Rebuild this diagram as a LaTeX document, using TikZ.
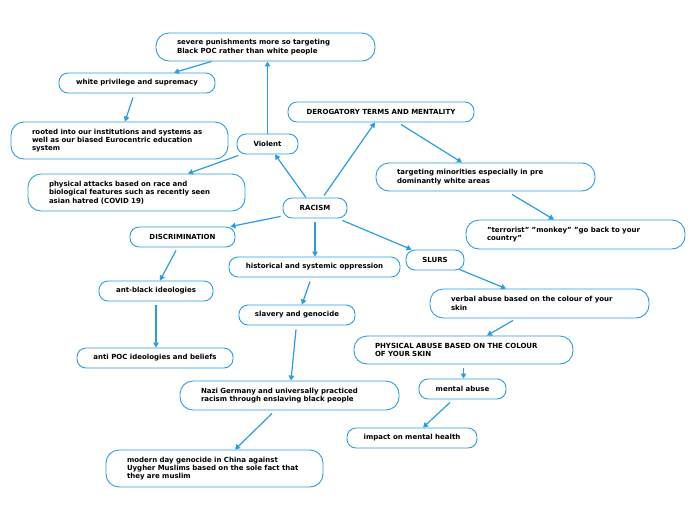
\documentclass[tikz,border=0pt]{standalone}
\usepackage{fontspec}
\setmainfont{DejaVu Sans}
\usetikzlibrary{arrows.meta}
\definecolor{mapblue}{RGB}{42,157,224}
\tikzset{
  bubble/.style={draw=mapblue, line width=0.9pt, rounded corners=9pt,
    inner xsep=4pt, minimum height=20pt, align=center,
    font=\fontsize{7}{8.4}\selectfont\bfseries},
  note/.style={bubble, rounded corners=13pt, align=left,
    inner xsep=21pt, text width=#1},
  link/.style={draw=mapblue, line width=1.2pt,
    -{Triangle[length=5pt,width=5.5pt]}}
}

\begin{document}
\begin{tikzpicture}[x=1pt, y=-1pt]
  \useasboundingbox (0,0) rectangle (696,520);

  \node [bubble, minimum width=64pt] (racism) at (315,208) {RACISM};
  \node [bubble, minimum width=61pt] (violent) at (267.5,144) {Violent};
  \node [note=177pt, minimum height=28pt] (severe) at (265.5,47)
    {severe punishments more so targeting\\Black POC rather than white people};
  \node [bubble, minimum width=156pt] (privilege) at (137,83) {white privilege and supremacy};
  \node [note=175pt, minimum height=37pt] (rooted) at (119.5,140.5)
    {rooted into our institutions and systems as\\well as our biased Eurocentric education\\system};
  \node [note=175pt, minimum height=37pt] (attacks) at (136.5,192.5)
    {physical attacks based on race and\\biological features such as recently seen\\asian hatred (COVID 19)};
  \node [bubble, minimum width=186pt] (derog) at (381,112) {DEROGATORY TERMS AND MENTALITY};
  \node [note=177pt, minimum height=28pt] (targeting) at (485.5,177)
    {targeting minorities especially in pre\\dominantly white areas};
  \node [note=177pt, minimum height=29pt] (terrorist) at (575.5,234.5)
    {"terrorist" "monkey" "go back to your\\country"};
  \node [bubble, minimum width=105pt] (discrim) at (182.5,237) {DISCRIMINATION};
  \node [bubble, minimum width=171pt] (historical) at (314.5,267) {historical and systemic oppression};
  \node [bubble, minimum width=58pt] (slurs) at (435,260) {SLURS};
  \node [note=177pt, minimum height=29pt] (verbal) at (539.5,303.5)
    {verbal abuse based on the colour of your\\skin};
  \node [bubble, minimum width=114pt] (antblack) at (156,291) {ant-black ideologies};
  \node [bubble, minimum width=116pt] (slavery) at (297,315) {slavery and genocide};
  \node [bubble, minimum width=156pt] (antipoc) at (155,358) {anti POC ideologies and beliefs};
  \node [note=177pt, minimum height=28pt] (physabuse) at (463.5,350)
    {PHYSICAL ABUSE BASED ON THE COLOUR\\OF YOUR SKIN};
  \node [bubble, minimum width=87pt] (mental) at (462.5,389) {mental abuse};
  \node [note=177pt, minimum height=29pt] (nazi) at (289.5,395.5)
    {Nazi Germany and universally practiced\\racism through enslaving black people};
  \node [bubble, minimum width=130pt] (impact) at (412,438) {impact on mental health};
  \node [note=175pt, minimum height=37pt] (modern) at (214.5,468.5)
    {modern day genocide in China against\\Uygher Muslims based on the sole fact that\\they are muslim};

  % branches out of RACISM
  \draw [link] ([xshift=-9pt]racism.north) -- ([xshift=7.5pt]violent.south);
  \draw [link] ([shift={(9pt,2pt)}]racism.north) -- ([xshift=-6pt]derog.south);
  \draw [link] ([shift={(-2pt,2pt)}]racism.south west) -- ([xshift=-5pt]discrim.north east);
  \draw [link] ([yshift=-4pt]racism.south) -- (racism.south |- historical.north);
  \draw [link] ([shift={(-5pt,-2pt)}]racism.south east) -- ([xshift=6pt]slurs.north west);

  \draw [link] (violent.north) -- (violent.north |- severe.south);
  \draw [link] ([xshift=-54pt]severe.south) -- ([xshift=37pt]privilege.north);
  \draw [link] ([shift={(-4pt,-4pt)}]privilege.south) -- ([xshift=5.5pt]rooted.north);
  \draw [link] ([shift={(2pt,-1pt)}]violent.south west) -- ([xshift=51.5pt]attacks.north);

  \draw [link] ([shift={(20pt,-2pt)}]derog.south) -- ([xshift=-23.5pt]targeting.north);
  \draw [link] ([shift={(26.5pt,-3pt)}]targeting.south) -- ([xshift=-21.5pt]terrorist.north);

  \draw [link] ([shift={(-6.5pt,-3pt)}]discrim.south) -- ([xshift=4pt]antblack.north);
  \draw [link] ([yshift=-4pt]antblack.south) -- (antblack.south |- antipoc.north);

  \draw [link] ([shift={(-4.5pt,-4pt)}]historical.south) -- ([xshift=5pt]slavery.north);
  \draw [link] ([shift={(-1pt,-4pt)}]slavery.south) -- ([xshift=1.5pt]nazi.north);
  \draw [link] ([shift={(-17.5pt,-3pt)}]nazi.south) -- ([xshift=20.5pt]modern.north);

  \draw [link] ([shift={(-5pt,1pt)}]slurs.south east) -- ([xshift=-33.5pt]verbal.north);
  \draw [link] ([shift={(-26.5pt,-2pt)}]verbal.south) -- ([xshift=23.5pt]physabuse.north);
  \draw [link] ([yshift=-4pt]physabuse.south) -- (physabuse.south |- mental.north);
  \draw [link] ([shift={(-12.5pt,-3pt)}]mental.south) -- ([xshift=11pt]impact.north);
\end{tikzpicture}
\end{document}
